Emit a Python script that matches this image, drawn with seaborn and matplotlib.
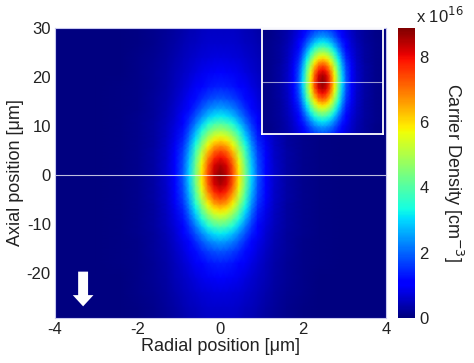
import numpy as np
import matplotlib
matplotlib.use("Agg")
import matplotlib.pyplot as plt
import seaborn as sns

# carrier density (units of 1e16 cm^-3)
# bright focal core plus a faint, wider halo along the beam axis
core_peak = 7.8
halo_peak = 1.0
radial_pos = [-4.0, -3.0, -2.4, -2.0, -1.6, -1.3, -1.1, -0.9, -0.75, -0.6, -0.45, -0.3, -0.15,
              0.0, 0.15, 0.3, 0.45, 0.6, 0.75, 0.9, 1.1, 1.3, 1.6, 2.0, 2.4, 3.0, 4.0]
core_radial = [0.0, 0.0, 0.0, 0.003, 0.01, 0.03, 0.07, 0.16, 0.29, 0.46, 0.65, 0.83, 0.955,
               1.0, 0.955, 0.83, 0.65, 0.46, 0.29, 0.16, 0.07, 0.03, 0.01, 0.003, 0.0, 0.0, 0.0]
halo_radial = [0.0, 0.01, 0.04, 0.1, 0.22, 0.37, 0.5, 0.63, 0.73, 0.82, 0.9, 0.96, 0.99,
               1.0, 0.99, 0.96, 0.9, 0.82, 0.73, 0.63, 0.5, 0.37, 0.22, 0.1, 0.04, 0.01, 0.0]
axial_pos = [-30, -27, -24, -21, -18, -15.5, -13.5, -12, -10.5, -9, -8, -7, -6, -5, -3.5, -2,
             0, 2, 3.5, 5, 6, 7, 8, 9, 10.5, 12, 13.5, 15.5, 18, 21, 24, 27, 30]
core_axial = [0.0, 0.0, 0.005, 0.02, 0.06, 0.12, 0.2, 0.28, 0.38, 0.5, 0.58, 0.66, 0.74, 0.81, 0.9, 0.966,
              1.0, 0.966, 0.9, 0.81, 0.74, 0.66, 0.58, 0.5, 0.38, 0.28, 0.2, 0.12, 0.06, 0.02, 0.005, 0.0, 0.0]
halo_axial = [0.55, 0.62, 0.72, 0.83, 0.9, 0.95, 0.98, 1.0, 1.0, 1.0, 1.0, 1.0, 1.0, 1.0, 1.0, 1.0,
              1.0, 1.0, 1.0, 1.0, 1.0, 1.0, 1.0, 1.0, 1.0, 1.0, 0.98, 0.95, 0.9, 0.83, 0.72, 0.62, 0.55]

x_ticks = [-4, -2, 0, 2, 4]
y_ticks = [-20, -10, 0, 10, 20, 30]
cbar_ticks = [0, 2, 4, 6, 8]
x_lim = (-4, 4)
y_lim = (-29.2, 30)
inset_x_lim = (-2.3, 2.3)
inset_y_lim = (-16, 16)
c_max = 8.9

sns.set_theme(style="white")
plt.rcParams["font.family"] = ["Liberation Sans", "DejaVu Sans"]
plt.rcParams["axes.unicode_minus"] = False

density = (core_peak * np.outer(core_axial, core_radial)
           + halo_peak * np.outer(halo_axial, halo_radial))
jet = matplotlib.colormaps["jet"]

fig = plt.figure(figsize=(4.74, 3.63), dpi=100)
ax = fig.add_axes([0.116, 0.125, 0.698, 0.798])
mesh = ax.pcolormesh(radial_pos, axial_pos, density, shading="gouraud",
                     cmap=jet, vmin=0, vmax=c_max, rasterized=True)
ax.axhline(0, color="white", lw=0.8, alpha=0.75)
ax.set_xlim(*x_lim)
ax.set_ylim(*y_lim)
ax.set_xticks(x_ticks)
ax.set_yticks(y_ticks)
ax.tick_params(length=0, labelsize=12, pad=3, colors="#222222")
ax.set_xlabel("Radial position [\u03bcm]", fontsize=13, labelpad=1, color="#222222")
ax.set_ylabel("Axial position [\u03bcm]", fontsize=13, labelpad=2, color="#222222")
for s in ax.spines.values():
    s.set_color("#c8c8ee")
    s.set_linewidth(0.8)

# white arrow in the lower left corner
ax.arrow(-3.32, -19.8, 0, -7.1, width=0.24, head_width=0.5, head_length=2.3,
         length_includes_head=True, color="white", lw=0)

# inset: zoomed view of the focus
ins = fig.add_axes([262 / 474, 1 - 134 / 363, 121 / 474, 105 / 363])
ins.pcolormesh(radial_pos, axial_pos, density, shading="gouraud",
               cmap=jet, vmin=0, vmax=c_max, rasterized=True)
ins.axhline(0, color="white", lw=0.8, alpha=0.6)
ins.set_xlim(*inset_x_lim)
ins.set_ylim(*inset_y_lim)
ins.set_xticks([])
ins.set_yticks([])
for s in ins.spines.values():
    s.set_color("white")
    s.set_linewidth(1.3)

# colorbar
cax = fig.add_axes([398 / 474, 0.125, 17 / 474, 0.798])
cb = fig.colorbar(mesh, cax=cax, ticks=cbar_ticks)
cb.outline.set_visible(False)
cb.ax.tick_params(length=0, labelsize=12, pad=3, colors="#222222")
cb.set_label("Carrier Density [cm$^{-3}$]", fontsize=13, rotation=-90, labelpad=26, color="#222222")
fig.text(416 / 474, 1 - 23 / 363, "x 10$^{16}$", fontsize=12, va="baseline", ha="left", color="#222222")

fig.savefig("out.png", dpi=100)
